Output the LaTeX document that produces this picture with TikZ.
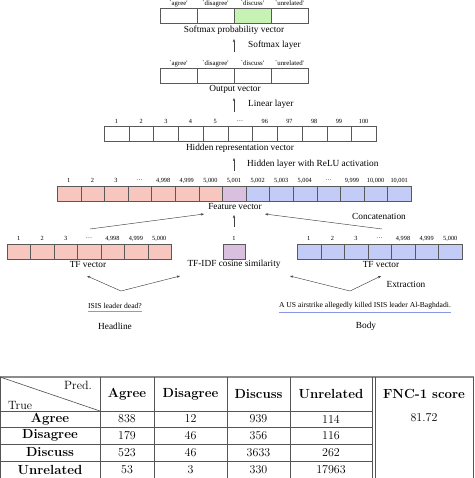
\documentclass[tikz,border=0pt]{standalone}
\usepackage{fontspec}
\newfontfamily\tms{Liberation Serif}
\usetikzlibrary{arrows.meta}
\definecolor{redc}{HTML}{F7C6BE}
\definecolor{purc}{HTML}{D8C0DE}
\definecolor{bluc}{HTML}{C3CBF7}
\definecolor{grnc}{HTML}{C6F2B4}
\definecolor{lined}{HTML}{555555}
\definecolor{redu}{HTML}{E37E7A}
\definecolor{bluu}{HTML}{8A98E4}
\begin{document}
\begin{tikzpicture}[x=1pt,y=-1pt,
  cellbox/.style={draw=black!65, line width=0.45pt, inner sep=0pt, anchor=north west, minimum height=15pt},
  numlab/.style={font=\tms\fontsize{6.3}{7}\selectfont, inner sep=0pt},
  qlab/.style={font=\tms\fontsize{6.8}{7}\selectfont, inner sep=0pt},
  mainlab/.style={font=\tms\fontsize{9.3}{11}\selectfont, inner sep=0pt},
  txtlab/.style={font=\tms\fontsize{7.6}{9}\selectfont, inner sep=0pt},
  arr/.style={-{Stealth[length=3.2pt,width=2.4pt]}, draw=black!75, line width=0.45pt},
  tline/.style={draw=lined, line width=0.9pt},
  hb/.style={font=\bfseries\fontsize{13.2}{15}\selectfont, inner sep=0pt},
  tn/.style={font=\fontsize{12}{14}\selectfont, inner sep=0pt}
]
\useasboundingbox (0,0) rectangle (474,478);

% ---------- Softmax probability vector ----------
\foreach \lab [count=\i] in {`agree',`disagree',`discuss',`unrelated'}{
  \node[cellbox, minimum width=37pt] (s\i) at ({160+(\i-1)*37},8) {};
  \node[qlab] (sl\i) at ({160+(\i-0.5)*37},3.5) {\lab};
}
\node[cellbox, minimum width=37pt, fill=grnc] at (234,8) {};
\node[mainlab] (smlab) at (234,30) {Softmax probability vector};

% ---------- Output vector ----------
\foreach \lab [count=\i] in {`agree',`disagree',`discuss',`unrelated'}{
  \node[cellbox, minimum width=37pt] (o\i) at ({160+(\i-1)*37},68) {};
  \node[qlab] (ol\i) at ({160+(\i-0.5)*37},63.5) {\lab};
}
\node[mainlab] (outlab) at (235,89.5) {Output vector};
\coordinate (a1s) at (234,52);
\coordinate (a1e) at (234,39);
\draw[arr] (a1s) -- (a1e);
\node[mainlab, anchor=west] (softl) at (248,45) {Softmax layer};

% ---------- Hidden representation vector ----------
\foreach \lab [count=\i] in {1,2,3,4,5,\dots,96,97,98,99,100}{
  \node[cellbox, minimum width=24.73pt] (h\i) at ({104+(\i-1)*24.73},126) {};
  \node[numlab] (hl\i) at ({104+(\i-0.5)*24.73},121) {\lab};
}
\node[mainlab] (hidlab) at (240,148.5) {Hidden representation vector};
\coordinate (a2s) at (234,112);
\coordinate (a2e) at (234,98);
\draw[arr] (a2s) -- (a2e);
\node[mainlab, anchor=west] (linl) at (248,104.5) {Linear layer};

% ---------- Feature vector ----------
\foreach \lab [count=\i] in {1,2,3,\dots,{4,998},{4,999},{5,000},{5,001},{5,002},{5,003},{5,004},\dots,{9,999},{10,000},{10,001}}{
  \node[numlab] (fl\i) at ({57+(\i-0.5)*23.6},180.5) {\lab};
}
\foreach \i in {1,...,7}{
  \node[cellbox, minimum width=23.6pt, minimum height=14.5pt, fill=redc] (f\i) at ({57+(\i-1)*23.6},186) {};
}
\node[cellbox, minimum width=23.6pt, minimum height=14.5pt, fill=purc] (f8) at ({57+7*23.6},186) {};
\foreach \i in {9,...,15}{
  \node[cellbox, minimum width=23.6pt, minimum height=14.5pt, fill=bluc] (f\i) at ({57+(\i-1)*23.6},186) {};
}
\node[mainlab] (featlab) at (235,206.5) {Feature vector};
\coordinate (a3s) at (234,171);
\coordinate (a3e) at (234,158);
\draw[arr] (a3s) -- (a3e);
\node[mainlab, anchor=west] (relul) at (247,164.5) {Hidden layer with ReLU activation};
\node[mainlab] (concl) at (379,216) {Concatenation};

% ---------- TF vectors and similarity ----------
\foreach \lab [count=\i] in {1,2,3,\dots,{4,998},{4,999},{5,000}}{
  \node[cellbox, minimum width=23.43pt, fill=redc] (tl\i) at ({7+(\i-1)*23.43},244) {};
  \node[numlab] (tll\i) at ({7+(\i-0.5)*23.43},238.5) {\lab};
  \node[cellbox, minimum width=23.57pt, fill=bluc] (tr\i) at ({297+(\i-1)*23.57},244) {};
  \node[numlab] (trl\i) at ({297+(\i-0.5)*23.57},238.5) {\lab};
}
\node[cellbox, minimum width=22pt, fill=purc] (sim) at (223,244) {};
\node[numlab] (siml) at (234,238.5) {1};
\node[mainlab] (tfl) at (88,264.5) {TF vector};
\node[mainlab] (simlab) at (234,264.5) {TF-IDF cosine similarity};
\node[mainlab] (tfr) at (381,264.5) {TF vector};

\coordinate (c1s) at (90,229);   \coordinate (c1e) at (204,214);
\coordinate (c2s) at (234,227);  \coordinate (c2e) at (234,215);
\coordinate (c3s) at (382,229);  \coordinate (c3e) at (265,214);
\draw[arr] (c1s) -- (c1e);
\draw[arr] (c2s) -- (c2e);
\draw[arr] (c3s) -- (c3e);

% ---------- Extraction ----------
\coordinate (hs) at (121,291);
\coordinate (bs) at (350,291);
\coordinate (e1) at (87,276);
\coordinate (e2) at (180,276);
\coordinate (e3) at (290,276);
\coordinate (e4) at (381,276);
\draw[arr] (hs) -- (e1);
\draw[arr] (hs) -- (e2);
\draw[arr] (bs) -- (e3);
\draw[arr] (bs) -- (e4);
\node[mainlab] (extl) at (406,284.5) {Extraction};

\node[txtlab] (head) at (115,306) {ISIS leader dead?};
\draw[draw=redu, line width=0.8pt] ([yshift=-3pt]head.south west) -- ([yshift=-3pt]head.south east);
\node[mainlab] (headl) at (115,326) {Headline};
\node[txtlab] (body) at (365,306) {A US airstrike allegedly killed ISIS leader Al-Baghdadi.};
\draw[draw=bluu, line width=0.8pt] ([yshift=-3pt]body.south west) -- ([yshift=-3pt]body.south east);
\node[mainlab] (bodyl) at (366,326) {Body};

% ---------- Table ----------
\draw[draw=black!45, line width=1.1pt] (0,377) -- (474,377);
\foreach \yy in {411,427,444,461}{
  \draw[tline] (0,\yy) -- (372,\yy);
}
\foreach \xx in {0.6,100,154,227,290,372,375,473.4}{
  \draw[tline] (\xx,377) -- (\xx,478);
}
\draw[draw=black!70, line width=0.6pt] (0,377) -- (100,411);
\node[tn, anchor=east] (pred) at (92,385) {Pred.};
\node[tn, anchor=west] (true) at (8,405) {True};

\node[hb] (hA) at (127,394) {Agree};
\node[hb] (hD) at (190.5,394) {Disagree};
\node[hb] (hC) at (258.5,394) {Discuss};
\node[hb] (hU) at (331,394) {Unrelated};
\node[hb] (hF) at (424,394) {FNC-1 score};

\foreach \nm/\yy [count=\r] in {Agree/419, Disagree/435.5, Discuss/452.5, Unrelated/469.5}{
  \node[hb] (r\r) at (50,\yy) {\nm};
}
\foreach \a/\b/\c/\d/\yy [count=\r] in {838/12/939/114/419, 179/46/356/116/435.5, 523/46/3633/262/452.5, 53/3/330/17963/469.5}{
  \node[tn] (v\r a) at (127,\yy) {\a};
  \node[tn] (v\r b) at (190.5,\yy) {\b};
  \node[tn] (v\r c) at (258.5,\yy) {\c};
  \node[tn] (v\r d) at (331,\yy) {\d};
}
\node[tn] (score) at (424,418) {81.72};
\end{tikzpicture}
\end{document}
